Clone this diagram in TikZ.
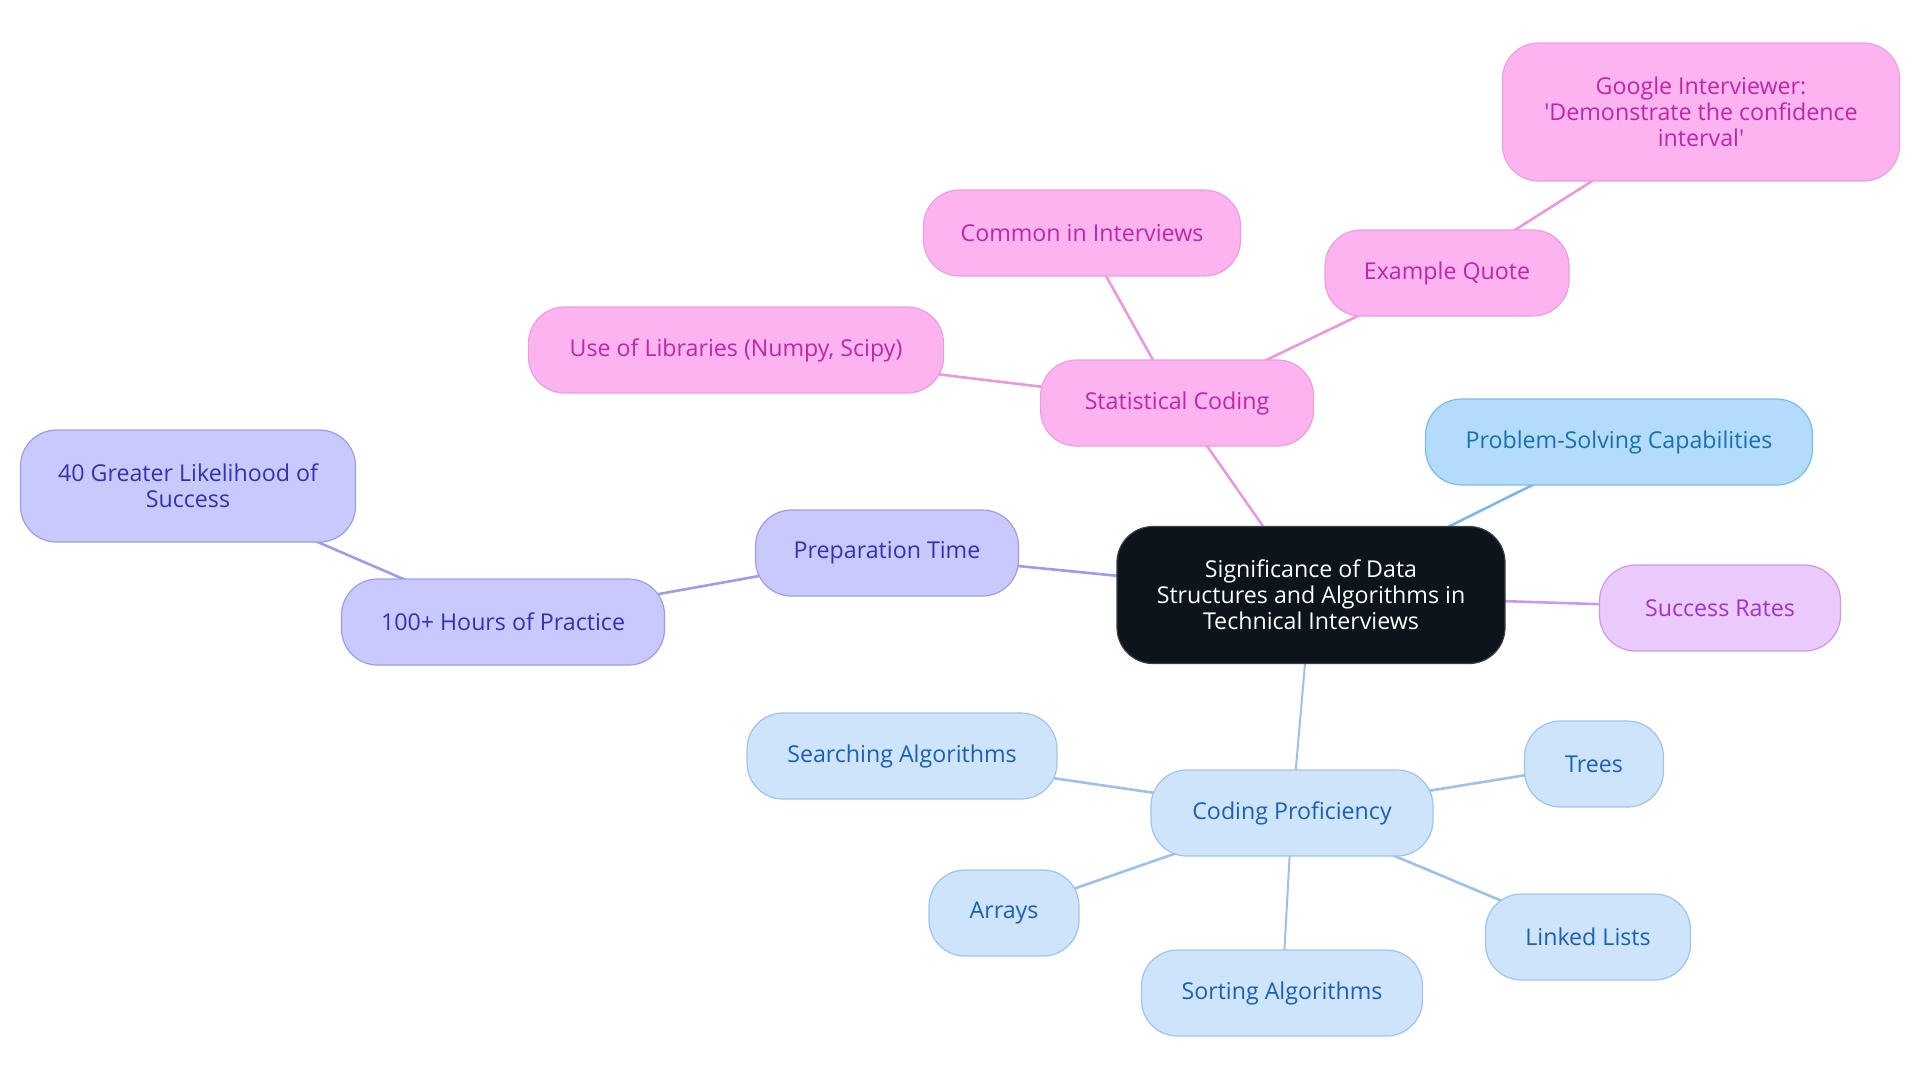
\documentclass[tikz,border=0pt]{standalone}
\usepackage{fontspec}
\setmainfont{Open Sans}
\usetikzlibrary{backgrounds}
\definecolor{pinkfill}{HTML}{FCB4F1}
\definecolor{pinkdraw}{HTML}{EBA0DE}
\definecolor{pinktext}{HTML}{C026A5}
\definecolor{pinkedge}{HTML}{E99ADB}
\definecolor{bluefill}{HTML}{CDE4FB}
\definecolor{bluedraw}{HTML}{9FC3EE}
\definecolor{bluetext}{HTML}{1D5FB5}
\definecolor{blueedge}{HTML}{9DC1EA}
\definecolor{psfill}{HTML}{B3DBFB}
\definecolor{psdraw}{HTML}{7DBBEA}
\definecolor{pstext}{HTML}{1A70AE}
\definecolor{psedge}{HTML}{7BBAE6}
\definecolor{srfill}{HTML}{EBCAFD}
\definecolor{srdraw}{HTML}{C79BE8}
\definecolor{srtext}{HTML}{A133CC}
\definecolor{sredge}{HTML}{C89BE6}
\definecolor{prfill}{HTML}{C8C9FD}
\definecolor{prdraw}{HTML}{9D9DE8}
\definecolor{prtext}{HTML}{3432B2}
\definecolor{predge}{HTML}{9C9CE8}
\definecolor{cfill}{HTML}{0C141C}
\definecolor{cdraw}{HTML}{3A3F44}
\tikzset{
  box/.style={rounded corners=18pt, inner sep=0pt, align=center, line width=0.6pt,
    font=\fontsize{11.6}{13}\selectfont},
  pinkbox/.style={box, fill=pinkfill, draw=pinkdraw, text=pinktext},
  bluebox/.style={box, fill=bluefill, draw=bluedraw, text=bluetext},
  psbox/.style={box, fill=psfill, draw=psdraw, text=pstext},
  srbox/.style={box, fill=srfill, draw=srdraw, text=srtext},
  prbox/.style={box, fill=prfill, draw=prdraw, text=prtext},
  cbox/.style={box, fill=cfill, draw=cdraw, text=white},
  edge/.style={line width=1.3pt},
  thin edge/.style={line width=1pt},
}
\begin{document}
\begin{tikzpicture}[x=0.5pt,y=-0.5pt]
\useasboundingbox (0,0) rectangle (1920,1083);
% central
\node[cbox, minimum width=194pt, minimum height=68.5pt] (c) at (1311,595)
  {Significance of Data\\Structures and Algorithms in\\Technical Interviews};
% pink group
\node[pinkbox, minimum width=136.5pt, minimum height=43pt] (stat) at (1177,403) {Statistical Coding};
\node[pinkbox, minimum width=158.5pt, minimum height=43pt] (common) at (1082,233) {Common in Interviews};
\node[pinkbox, minimum width=207.5pt, minimum height=43pt] (lib) at (736,350) {Use of Libraries (Numpy, Scipy)};
\node[pinkbox, minimum width=122pt, minimum height=43pt] (ex) at (1447,273) {Example Quote};
\node[pinkbox, minimum width=198.5pt, minimum height=69pt] (google) at (1701,112)
  {Google Interviewer:\\\textquotesingle Demonstrate the confidence\\interval\textquotesingle};
% problem solving / success
\node[psbox, minimum width=193.5pt, minimum height=43pt] (ps) at (1619,442) {Problem-Solving Capabilities};
\node[srbox, minimum width=120.5pt, minimum height=43pt] (sr) at (1720,608) {Success Rates};
% preparation group
\node[prbox, minimum width=131.5pt, minimum height=43pt] (prep) at (887,553) {Preparation Time};
\node[prbox, minimum width=161.5pt, minimum height=43pt] (hours) at (503,622) {100+ Hours of Practice};
\node[prbox, minimum width=167.5pt, minimum height=56pt] (forty) at (188,486) {40 Greater Likelihood of\\Success};
% coding group
\node[bluebox, minimum width=141pt, minimum height=43pt] (cod) at (1292,813) {Coding Proficiency};
\node[bluebox, minimum width=155pt, minimum height=43pt] (search) at (902,756) {Searching Algorithms};
\node[bluebox, minimum width=69.5pt, minimum height=43pt] (trees) at (1594,764) {Trees};
\node[bluebox, minimum width=75pt, minimum height=43pt] (arrays) at (1004,913) {Arrays};
\node[bluebox, minimum width=102.5pt, minimum height=43pt] (linked) at (1588,937) {Linked Lists};
\node[bluebox, minimum width=140.5pt, minimum height=43pt] (sort) at (1282,993) {Sorting Algorithms};
\begin{pgfonlayer}{background}
\draw[edge, pinkedge] (c.center) -- (stat.center);
\draw[edge, pinkedge] (stat.center) -- (common.center);
\draw[edge, pinkedge] (stat.center) -- (lib.center);
\draw[edge, pinkedge] (stat.center) -- (ex.center);
\draw[edge, pinkedge] (ex.center) -- (google.center);
\draw[edge, psedge] (c.center) -- (ps.center);
\draw[edge, sredge] (c.center) -- (sr.center);
\draw[edge, predge] (c.center) -- (prep.center);
\draw[edge, predge] (prep.center) -- (hours.center);
\draw[edge, predge] (hours.center) -- (forty.center);
\draw[thin edge, blueedge] (c.center) -- (cod.center);
\draw[edge, blueedge] (cod.center) -- (search.center);
\draw[edge, blueedge] (cod.center) -- (trees.center);
\draw[edge, blueedge] (cod.center) -- (arrays.center);
\draw[edge, blueedge] (cod.center) -- (linked.center);
\draw[thin edge, blueedge] (cod.center) -- (sort.center);
\end{pgfonlayer}
\end{tikzpicture}
\end{document}
